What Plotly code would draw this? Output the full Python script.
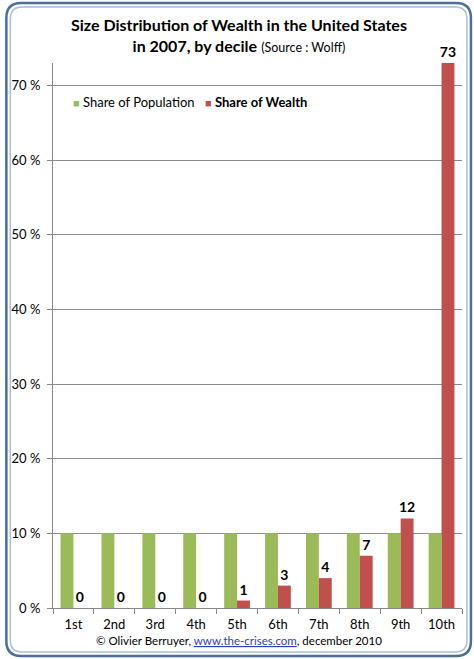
import plotly.graph_objects as go

deciles = ["1st", "2nd", "3rd", "4th", "5th", "6th", "7th", "8th", "9th", "10th"]
population_share = [10, 10, 10, 10, 10, 10, 10, 10, 10, 10]
wealth_share = [0, 0, 0, 0, 1, 3, 4, 7, 12, 73]
y_ticks = [0, 10, 20, 30, 40, 50, 60, 70]
series_names = ["Share of Population", "Share of Wealth"]

W, H = 474, 659
ML, MR, MT, MB = 50, 12, 63, 51
PW, PH = W - ML - MR, H - MT - MB

GREEN = "#9BBB59"
RED = "#C0504D"
FONT = "Lato"


def px(x):
    return (x - ML) / PW


def py(y):
    return (H - MB - y) / PH


def rounded_rect(x0, y0, x1, y1, r):
    # rounded rectangle path in paper coords, from pixel values
    pts = [
        f"M {px(x0 + r)},{py(y0)}",
        f"L {px(x1 - r)},{py(y0)}",
        f"Q {px(x1)},{py(y0)} {px(x1)},{py(y0 + r)}",
        f"L {px(x1)},{py(y1 - r)}",
        f"Q {px(x1)},{py(y1)} {px(x1 - r)},{py(y1)}",
        f"L {px(x0 + r)},{py(y1)}",
        f"Q {px(x0)},{py(y1)} {px(x0)},{py(y1 - r)}",
        f"L {px(x0)},{py(y0 + r)}",
        f"Q {px(x0)},{py(y0)} {px(x0 + r)},{py(y0)}",
        "Z",
    ]
    return " ".join(pts)


fig = go.Figure()
fig.add_trace(go.Bar(
    x=deciles, y=population_share, name=series_names[0],
    marker=dict(color=GREEN, line=dict(width=0)),
))
fig.add_trace(go.Bar(
    x=deciles, y=wealth_share, name=series_names[1],
    marker=dict(color=RED, line=dict(width=0)),
    text=[str(v) for v in wealth_share], textposition="outside",
    textfont=dict(family=FONT, size=14, color="black"),
    texttemplate="<b>%{text}</b>", cliponaxis=False, constraintext="none",
))

# outer frame
fig.add_shape(type="path", xref="paper", yref="paper",
              path=rounded_rect(7, 7, W - 7, H - 7, 12),
              line=dict(color="#A9BFDA", width=1.5), layer="below")
fig.add_shape(type="path", xref="paper", yref="paper",
              path=rounded_rect(3, 3, W - 3, H - 3, 15),
              line=dict(color="#4A6F9C", width=2.5), layer="below")

fig.add_annotation(
    xref="paper", yref="paper", x=px(237), y=py(35), showarrow=False,
    xanchor="center", yanchor="middle",
    text="<b>Size Distribution of Wealth in the United States</b><br>"
         "<b>in 2007, by decile</b> <span style='font-size:12.5px'>(Source : Wolff)</span>",
    font=dict(family=FONT, size=16, color="black"), align="center",
)
fig.add_annotation(
    xref="paper", yref="paper", x=px(237), y=py(640), showarrow=False,
    xanchor="center", yanchor="middle",
    text="© Olivier Berruyer, <span style='color:#2B3FB8'><u>www.the-crises.com</u></span>, december 2010",
    font=dict(family=FONT, size=11.5, color="black"),
)

# legend drawn as text, with a coloured square for each series
legend_x = [68, 201]
for name, color, lx, bold in zip(series_names, [GREEN, RED], legend_x, [False, True]):
    label = f"<b>{name}</b>" if bold else name
    fig.add_annotation(
        xref="paper", yref="paper", x=px(lx), y=py(102), showarrow=False,
        xanchor="left", yanchor="middle",
        text=f"<span style='color:{color}; font-size:11px'>■</span> {label}",
        font=dict(family=FONT, size=13, color="black"),
    )

fig.update_layout(
    width=W, height=H,
    margin=dict(l=ML, r=MR, t=MT, b=MB),
    paper_bgcolor="white", plot_bgcolor="white",
    font=dict(family=FONT, size=13, color="black"),
    barmode="group", bargap=0.37, bargroupgap=0.0,
    showlegend=False,
    xaxis=dict(showline=True, linecolor="#888888", linewidth=1,
               ticks="outside", ticklen=5, tickcolor="#888888",
               tickson="boundaries", tickfont=dict(size=13),
               ticklabelstandoff=4),
    yaxis=dict(range=[0, 73], tickvals=y_ticks,
               ticktext=[f"{v} %" for v in y_ticks],
               showgrid=True, gridcolor="#8C8C8C", gridwidth=1,
               showline=True, linecolor="#888888", linewidth=1,
               ticks="outside", ticklen=5, tickcolor="#888888",
               zeroline=False, tickfont=dict(size=13),
               ticklabelstandoff=4),
)

fig.write_html("out.html", config={"displayModeBar": False},
               post_script="document.body.style.margin='0';")
